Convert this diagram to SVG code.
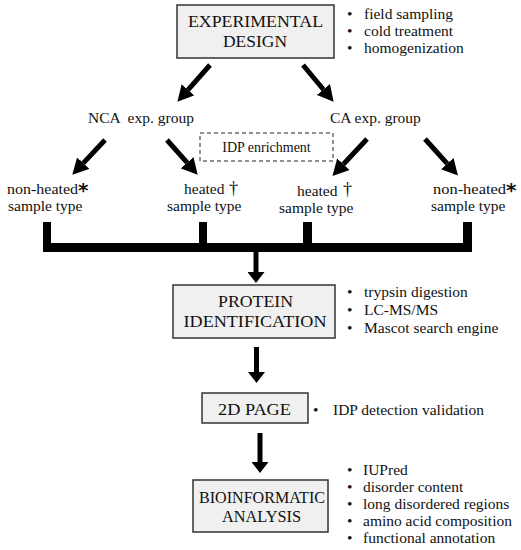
<svg xmlns="http://www.w3.org/2000/svg" width="521" height="550" viewBox="0 0 521 550">
<defs>
<style>
text{font-family:"Liberation Serif","Times New Roman",serif;fill:#111;}
.t{font-size:16.5px;text-anchor:middle;}
.b{font-size:15.5px;}
.s{font-size:15.5px;}
.box{fill:#f0f0f0;stroke:#333;stroke-width:1.5;}
.arr{stroke:#000;stroke-width:5;fill:none;}
.ast{font-family:"DejaVu Sans",sans-serif;font-weight:bold;font-size:20px;}
.dag{font-size:18px;}
</style>
<marker id="ah" markerUnits="userSpaceOnUse" viewBox="0 0 16 17" markerWidth="16" markerHeight="17" refX="0" refY="8.5" orient="auto">
<path d="M0,0 L16,8.5 L0,17 z" fill="#000"/>
</marker>
<marker id="ahv" markerUnits="userSpaceOnUse" viewBox="0 0 11 17" markerWidth="11" markerHeight="17" refX="0" refY="8.5" orient="auto">
<path d="M0,0 L11,8.5 L0,17 z" fill="#000"/>
</marker>
</defs>

<g id="experimental-design">
<rect class="box" x="177" y="5" width="157" height="53"/>
<text class="t" x="255.5" y="27" textLength="135" lengthAdjust="spacingAndGlyphs">EXPERIMENTAL</text>
<text class="t" x="255" y="47" textLength="64" lengthAdjust="spacingAndGlyphs">DESIGN</text>
<text class="b" x="347" y="18.5">•</text><text class="b" x="364" y="18.5">field sampling</text>
<text class="b" x="347" y="35.5">•</text><text class="b" x="364" y="35.5">cold treatment</text>
<text class="b" x="347" y="53">•</text><text class="b" x="364" y="53">homogenization</text>
</g>

<g id="nca-group"><text class="s" x="88" y="123" xml:space="preserve">NCA  exp. group</text></g>
<g id="ca-group"><text class="s" x="330" y="123">CA exp. group</text></g>

<g id="idp-enrichment">
<rect x="200" y="133" width="133" height="28" fill="none" stroke="#222" stroke-width="1" stroke-dasharray="4,3"/>
<text x="266.5" y="152" font-size="14px" text-anchor="middle">IDP enrichment</text>
</g>

<g id="nca-nonheated">
<text class="s" x="7" y="194" textLength="71" lengthAdjust="spacingAndGlyphs">non-heated</text><text class="ast" x="78" y="197">*</text>
<text class="s" x="8" y="211">sample type</text>
</g>
<g id="nca-heated">
<text class="s" x="184" y="194">heated</text><text class="dag" x="229" y="194">†</text>
<text class="s" x="167" y="211">sample type</text>
</g>
<g id="ca-heated">
<text class="s" x="297" y="196">heated</text><text class="dag" x="343" y="195">†</text>
<text class="s" x="279" y="213">sample type</text>
</g>
<g id="ca-nonheated">
<text class="s" x="433" y="194" textLength="73" lengthAdjust="spacingAndGlyphs">non-heated</text><text class="ast" x="506" y="197">*</text>
<text class="s" x="431" y="211">sample type</text>
</g>

<g id="protein-identification">
<rect class="box" x="173" y="285" width="162" height="53"/>
<text class="t" x="255.5" y="307" textLength="75" lengthAdjust="spacingAndGlyphs">PROTEIN</text>
<text class="t" x="255" y="327" textLength="143" lengthAdjust="spacingAndGlyphs">IDENTIFICATION</text>
<text class="b" x="347" y="297">•</text><text class="b" x="364" y="297">trypsin digestion</text>
<text class="b" x="347" y="315">•</text><text class="b" x="364" y="315">LC-MS/MS</text>
<text class="b" x="347" y="333">•</text><text class="b" x="364" y="333">Mascot search engine</text>
</g>

<g id="page-2d">
<rect class="box" x="202" y="393" width="106" height="30"/>
<text class="t" x="254.5" y="415" textLength="73" lengthAdjust="spacingAndGlyphs">2D PAGE</text>
<text class="b" x="313" y="415">•</text><text class="b" x="333" y="415">IDP detection validation</text>
</g>

<g id="bioinformatic-analysis">
<rect class="box" x="193" y="480" width="135" height="52"/>
<text class="t" x="262" y="503" textLength="126" lengthAdjust="spacingAndGlyphs">BIOINFORMATIC</text>
<text class="t" x="261.5" y="522" textLength="79" lengthAdjust="spacingAndGlyphs">ANALYSIS</text>
<text class="b" x="347" y="475">•</text><text class="b" x="363" y="475">IUPred</text>
<text class="b" x="347" y="492">•</text><text class="b" x="363" y="492">disorder content</text>
<text class="b" x="347" y="509">•</text><text class="b" x="363" y="509">long disordered regions</text>
<text class="b" x="347" y="526">•</text><text class="b" x="363" y="526">amino acid composition</text>
<text class="b" x="347" y="543">•</text><text class="b" x="363" y="543">functional annotation</text>
</g>

<g id="connectors">
<line class="arr" x1="210" y1="65" x2="188" y2="89.8" marker-end="url(#ah)"/>
<line class="arr" x1="303" y1="65" x2="323.4" y2="89.5" marker-end="url(#ah)"/>
<line class="arr" x1="105" y1="140" x2="83.3" y2="163.1" marker-end="url(#ah)"/>
<line class="arr" x1="167" y1="140" x2="187.1" y2="162.7" marker-end="url(#ah)"/>
<line class="arr" x1="367" y1="139" x2="343.4" y2="164.2" marker-end="url(#ah)"/>
<line class="arr" x1="425" y1="139" x2="447.2" y2="163.6" marker-end="url(#ah)"/>
<path d="M43,222 H51 V243 H199 V222 H207 V243 H303 V222 H312 V243 H463 V222 H472 V252 H43 Z" fill="#000"/>
<line class="arr" x1="256" y1="252" x2="256" y2="272" stroke-width="6" marker-end="url(#ahv)"/>
<line class="arr" x1="256.5" y1="347" x2="256.5" y2="372" stroke-width="5.5" marker-end="url(#ahv)"/>
<line class="arr" x1="260" y1="433" x2="260" y2="462" stroke-width="5.5" marker-end="url(#ahv)"/>
</g>
</svg>
